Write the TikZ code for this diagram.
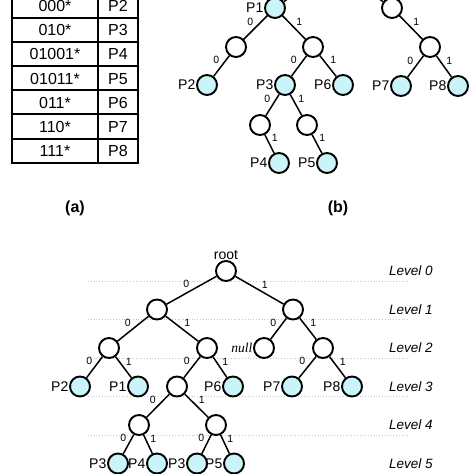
\documentclass[tikz,border=0pt]{standalone}
\usepackage{fontspec}
\setmainfont{Liberation Sans}
\newfontfamily\serfont{Liberation Serif}
\usepackage{tikz}
\usetikzlibrary{
	positioning,
	arrows.meta
}

\definecolor{pcyan}{RGB}{200,244,250}
\tikzset{
	inode/.style={draw,circle,minimum size=20pt,inner sep=0pt,line width=1.9pt,fill=white},
	pnode/.style={inode,fill=pcyan},
	edge/.style={line width=1.5pt},
	bit/.style={font=\fontsize{10.5}{10.5}\selectfont,inner sep=1.5pt},
	plab/.style={font=\fontsize{14}{14}\selectfont,inner sep=0.5pt},
	lvline/.style={gray!45,dotted,line width=0.8pt},
	lvl/.style={font=\fontsize{13.5}{14}\selectfont\itshape,anchor=west,inner sep=0pt},
	cell/.style={font=\fontsize{16}{16}\selectfont,inner sep=0pt},
	capt/.style={font=\fontsize{16}{16}\selectfont\bfseries}
}

\begin{document}
\begin{tikzpicture}[x=1pt,y=-1pt]
	\useasboundingbox (0,0) rectangle (474,474);
	\clip (0,0) rectangle (474,474);

	% (a) prefix table
	\draw[line width=1.6pt] (12,-10) -- (12,163) -- (138,163) -- (138,-10);
	\draw[line width=1.6pt] (98,-10) -- (98,163);
	\foreach \y in {18,42,66,90,114,139}
		\draw[line width=1.6pt] (12,\y) -- (138,\y);
	\foreach \pre/\nh [count=\i from 0] in {000*/P2,010*/P3,01001*/P4,01011*/P5,011*/P6,110*/P7,111*/P8} {
		\node[cell] (pre\i) at (55,6+24.2*\i) {\pre};
		\node[cell] (nh\i) at (118,6+24.2*\i) {\nh};
	}
	\node[capt] (capa) at (75,208) {(a)};

	% (b) binary trie
	\coordinate (btop) at (333,-34);
	\node[pnode,label={[plab]left:P1}] (b1) at (275,8) {};
	\node[inode] (b10) at (236,47) {};
	\node[inode] (b11) at (313,47) {};
	\node[pnode,label={[plab]left:P2}] (b100) at (207,85) {};
	\node[pnode,label={[plab]left:P3}] (b110) at (285,85) {};
	\node[pnode,label={[plab]left:P6}] (b111) at (343,85) {};
	\node[inode] (b1100) at (260,125) {};
	\node[inode] (b1101) at (307,125) {};
	\node[pnode,label={[plab]left:P4}] (b11001) at (279,163) {};
	\node[pnode,label={[plab]left:P5}] (b11011) at (327,163) {};
	\node[inode] (b2) at (392,8) {};
	\node[inode] (b21) at (430,47) {};
	\node[pnode,label={[plab]left:P7}] (b210) at (401,86) {};
	\node[pnode,label={[plab]left:P8}] (b211) at (458,86) {};

	\draw[edge] (btop) -- (b1);
	\draw[edge] (btop) -- (b2);
	\draw[edge] (b1) -- node[bit,auto,swap] {0} (b10);
	\draw[edge] (b1) -- node[bit,auto] {1} (b11);
	\draw[edge] (b10) -- node[bit,auto,swap] {0} (b100);
	\draw[edge] (b11) -- node[bit,auto,swap] {0} (b110);
	\draw[edge] (b11) -- node[bit,auto] {1} (b111);
	\draw[edge] (b110) -- node[bit,auto,swap] {0} (b1100);
	\draw[edge] (b110) -- node[bit,auto] {1} (b1101);
	\draw[edge] (b1100) -- node[bit,auto] {1} (b11001);
	\draw[edge] (b1101) -- node[bit,auto] {1} (b11011);
	\draw[edge] (b2) -- node[bit,auto] {1} (b21);
	\draw[edge] (b21) -- node[bit,auto,swap] {0} (b210);
	\draw[edge] (b21) -- node[bit,auto] {1} (b211);
	\node[capt] (capb) at (338,208) {(b)};

	% (c) levelled trie
	\foreach \y in {281,319.5,358,396.5,435}
		\draw[lvline] (88,\y) -- (408,\y);
	\foreach \k [count=\i from 0] in {0,...,5}
		\node[lvl] (lv\k) at (389,271+38.5*\i) {Level \k};

	\node[inode,label={[plab]above:root}] (r) at (226,271) {};
	\node[inode] (r0) at (157,309.5) {};
	\node[inode] (r1) at (293,309.5) {};
	\node[inode] (r00) at (109,348) {};
	\node[inode] (r01) at (207,348) {};
	\node[inode,label={[plab,font=\fontsize{13.5}{14}\selectfont\serfont\itshape]left:null}] (r10) at (264,348) {};
	\node[inode] (r11) at (323,348) {};
	\node[pnode,label={[plab]left:P2}] (r000) at (80,386.5) {};
	\node[pnode,label={[plab]left:P1}] (r001) at (138,386.5) {};
	\node[inode] (r010) at (177,386.5) {};
	\node[pnode,label={[plab]left:P6}] (r011) at (233,386.5) {};
	\node[pnode,label={[plab]left:P7}] (r110) at (292,386.5) {};
	\node[pnode,label={[plab]left:P8}] (r111) at (352,386.5) {};
	\node[inode] (r0100) at (139,425) {};
	\node[inode] (r0101) at (216,425) {};
	\node[pnode,label={[plab]left:P3}] (r01000) at (118,463.5) {};
	\node[pnode,label={[plab]left:P4}] (r01001) at (157,463.5) {};
	\node[pnode,label={[plab]left:P3}] (r01010) at (197,463.5) {};
	\node[pnode,label={[plab]left:P5}] (r01011) at (234,463.5) {};

	\draw[edge] (r) -- node[bit,auto,swap] {0} (r0);
	\draw[edge] (r) -- node[bit,auto] {1} (r1);
	\draw[edge] (r0) -- node[bit,auto,swap] {0} (r00);
	\draw[edge] (r0) -- node[bit,auto] {1} (r01);
	\draw[edge] (r1) -- node[bit,auto,swap] {0} (r10);
	\draw[edge] (r1) -- node[bit,auto] {1} (r11);
	\draw[edge] (r00) -- node[bit,auto,swap] {0} (r000);
	\draw[edge] (r00) -- node[bit,auto] {1} (r001);
	\draw[edge] (r01) -- node[bit,auto,swap] {0} (r010);
	\draw[edge] (r01) -- node[bit,auto] {1} (r011);
	\draw[edge] (r11) -- node[bit,auto,swap] {0} (r110);
	\draw[edge] (r11) -- node[bit,auto] {1} (r111);
	\draw[edge] (r010) -- node[bit,auto,swap] {0} (r0100);
	\draw[edge] (r010) -- node[bit,auto] {1} (r0101);
	\draw[edge] (r0100) -- node[bit,auto,swap] {0} (r01000);
	\draw[edge] (r0100) -- node[bit,auto] {1} (r01001);
	\draw[edge] (r0101) -- node[bit,auto,swap] {0} (r01010);
	\draw[edge] (r0101) -- node[bit,auto] {1} (r01011);

\end{tikzpicture}
\end{document}
